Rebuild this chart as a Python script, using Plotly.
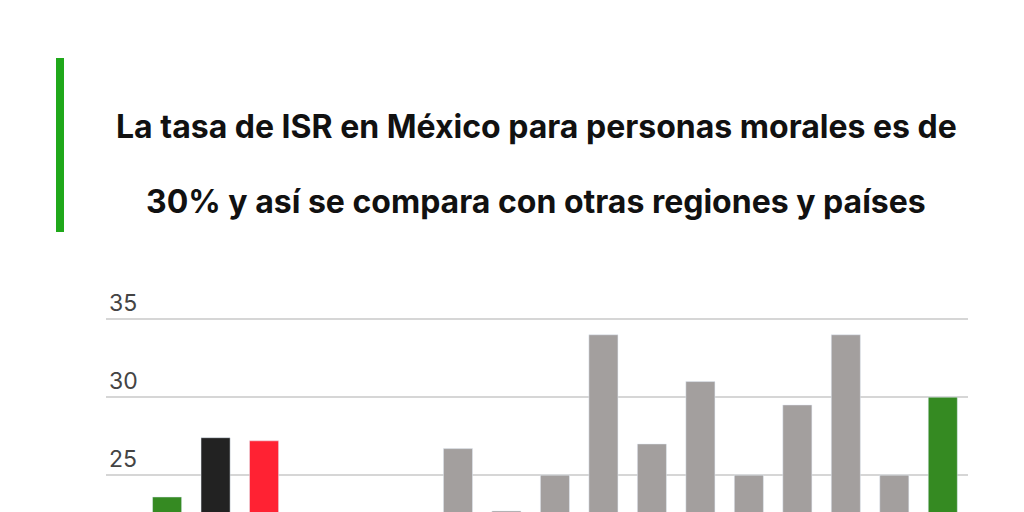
import plotly.graph_objects as go

paises = ["Promedio mundial", "África", "Latinoamérica", "Europa", "Asia", "OCDE",
          "Chile", "Canadá", "Estados Unidos", "Brasil", "Japón", "Colombia",
          "China", "Perú", "Argentina", "Corea del Sur", "México"]
tasas = [23.6, 27.4, 27.2, 20.0, 21.0, 22.0, 26.7, 22.7, 25.0, 34.0, 27.0, 31.0,
         25.0, 29.5, 34.0, 25.0, 30.0]
colores = ["#358a22", "#222222", "#ff2233"] + ["#a39f9e"] * 13 + ["#358a22"]

H = 1000
T, B = 280, 143
L, R = 98, 64
ph = H - T - B
pw = 1024 - L - R

def py(pix):
    return (H - B - pix) / ph

def px(pix):
    return (pix - L) / pw

fig = go.Figure(go.Bar(x=paises, y=tasas, marker_color=colores, width=0.6))

titulo = ["La tasa de ISR en México para personas morales es de",
          "30% y así se compara con otras regiones y países"]
anns = [dict(text="<b>%s</b>" % t, x=px(528), xref="paper", yref="paper", y=py(yy),
             yanchor="middle", showarrow=False,
             font=dict(family="Inter", size=32, weight=800, color="#111111"))
        for t, yy in zip(titulo, [119, 194])]

fig.update_layout(
    width=1024, height=H, margin=dict(l=L, r=R, t=T, b=B),
    plot_bgcolor="white", paper_bgcolor="white", showlegend=False,
    annotations=anns,
    shapes=[dict(type="rect", xref="paper", yref="paper",
                 x0=px(48), x1=px(56), y0=py(224), y1=py(50),
                 fillcolor="#1fa81a", line_width=0)],
    font=dict(family="Inter", color="#222222"),
)
fig.update_yaxes(range=[0, 37], tickvals=[0, 5, 10, 15, 20, 25, 30, 35],
                 ticklabelposition="inside top", showgrid=True,
                 gridcolor="#d6d6d6", gridwidth=2, tickfont=dict(size=23),
                 title=dict(text="Tasa (%)", font=dict(size=22), standoff=10),
                 zeroline=False, showline=False)
fig.update_xaxes(range=[-1.26, 16.52], tickangle=-45, tickfont=dict(size=14))
fig.write_html("out.html")
